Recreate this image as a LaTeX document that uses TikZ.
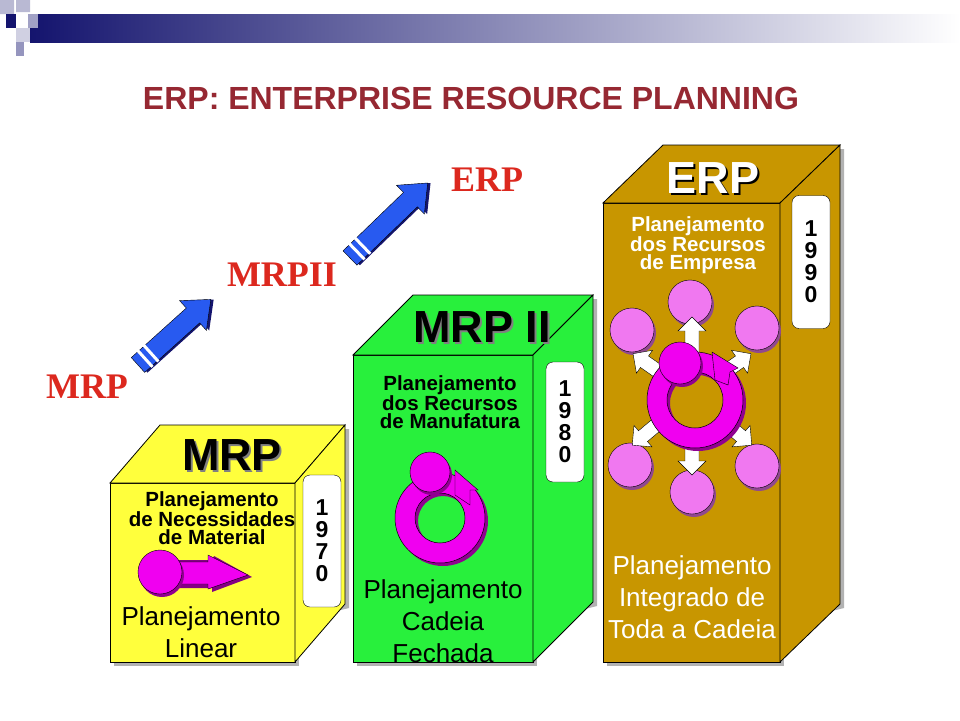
\documentclass[tikz,border=0pt]{standalone}
\usepackage{fontspec}
\setmainfont{Liberation Sans}
\newfontfamily\serifb{Liberation Serif}
\usetikzlibrary{arrows.meta}
\definecolor{navy}{RGB}{20,20,110}
\definecolor{tred}{RGB}{150,40,50}
\definecolor{lred}{RGB}{220,40,30}
\definecolor{yel}{RGB}{255,255,60}
\definecolor{grn}{RGB}{40,240,60}
\definecolor{tan}{RGB}{200,150,0}
\definecolor{mag}{RGB}{240,0,240}
\definecolor{pnk}{RGB}{240,120,240}
\definecolor{blu}{RGB}{40,90,240}
\tikzset{
  face/.style={draw=black,line width=0.8pt},
  shad/.style={fill=gray!60,draw=none},
  yearbox/.style={draw=black,fill=white,rounded corners=7pt},
  yeartxt/.style={font=\bfseries\fontsize{23}{22}\selectfont,align=center},
  big/.style={font=\bfseries\fontsize{45}{45}\selectfont},
  sub/.style={font=\bfseries\fontsize{20.5}{17.5}\selectfont,align=center,inner sep=0pt},
  plain/.style={font=\fontsize{26}{32}\selectfont,align=center},
  evo/.style={font=\serifb\bfseries\fontsize{36}{36}\selectfont,text=lred},
}
\newcommand{\cube}[7]{% x1 x2 ytop ybot dx dy colour
  \fill[shad] (#1+4,#4+4) -- (#2+#5+4,#4-#6+4) -- (#2+#5+4,#3-#6+4) -- (#1+#5+4,#3-#6+4) -- (#1+4,#3+4) -- cycle;
  \fill[shad] (#1+4,#3+4) rectangle (#2+4,#4+4);
  \draw[face,fill=#7] (#1,#3) rectangle (#2,#4);
  \draw[face,fill=#7] (#1,#3) -- (#1+#5,#3-#6) -- (#2+#5,#3-#6) -- (#2,#3) -- cycle;
  \draw[face,fill=#7] (#2,#3) -- (#2+#5,#3-#6) -- (#2+#5,#4-#6) -- (#2,#4) -- cycle;
}
\newcommand{\ring}[4]{% cx cy rout rin
  \fill[mag!60!black,even odd rule] (#1+3,#2+3) circle (#3) (#1+3,#2+3) circle (#4);
  \draw[fill=mag,line width=0.5pt,even odd rule] (#1,#2) circle (#3) (#1,#2) circle (#4);
}
\newcommand{\ball}[4]{\fill[#4!60!black] (#1+2,#2+3) circle (#3); \draw[fill=#4,line width=0.4pt] (#1,#2) circle (#3);}
\newcommand{\wa}[4]{% white arrow from center (#1,#2) angle #3 length #4
  \begin{scope}[shift={(#1,#2)},rotate=#3]
  \draw[fill=white,line width=0.4pt] (40,-7) -- (#4-14,-7) -- (#4-14,-14) -- (#4,0) -- (#4-14,14) -- (#4-14,7) -- (40,7) -- cycle;
  \end{scope}}
\newcommand{\ba}[4]{% blue arrow at (#1,#2) angle #3 length #4
  \begin{scope}[shift={(#1,#2)},rotate=#3]
  \fill[navy] (2,-8) -- (#4-22,-8) -- (#4-22,-18) -- (#4+2,2) -- (#4-22,22) -- (#4-22,12) -- (2,12) -- cycle;
  \draw[fill=blu] (0,-10) -- (#4-24,-10) -- (#4-24,-20) -- (#4,0) -- (#4-24,20) -- (#4-24,10) -- (0,10) -- cycle;
  \fill[white] (8,-11) rectangle (11,11) (16,-11) rectangle (19,11);
  \end{scope}}
\begin{document}
\begin{tikzpicture}[x=1pt,y=-1pt]
\useasboundingbox (0,0) rectangle (960,720);
\fill[white] (0,0) rectangle (960,720);
% header
\shade[left color=navy,right color=white] (30,14) rectangle (960,42);
\fill[navy!30] (0,0) rectangle (14,14) (16,0) rectangle (30,12);
\fill[navy] (6,14) rectangle (16,28);
\fill[navy!40] (28,14) rectangle (38,28);
\fill[navy!20] (16,28) rectangle (30,42);
\fill[navy!45] (16,42) rectangle (24,56);
\node (title) at (471,98) {\color{tred}\bfseries\fontsize{32}{32}\selectfont ERP: ENTERPRISE RESOURCE PLANNING};
% evolution labels
\node[evo] (l1) at (87,387) {MRP};
\node[evo] (l2) at (282,275) {MRPII};
\node[evo] (l3) at (487,180) {ERP};
\ba{138}{365}{42}{98}
\ba{350}{258}{44}{108}
% cubes
\cube{110}{295}{483}{662}{50}{58}{yel}
\cube{353}{533}{355}{662}{60}{60}{grn}
\cube{603}{780}{203}{662}{60}{58}{tan}
% year boxes
\node[yearbox,minimum width=38pt,minimum height=132pt] (y1) at (322,541) {};
\node[yeartxt] at (y1) {1\\9\\7\\0};
\node[yearbox,minimum width=38pt,minimum height=120pt] (y2) at (565,422) {};
\node[yeartxt] at (y2) {1\\9\\8\\0};
\node[yearbox,minimum width=38pt,minimum height=133pt] (y3) at (811,262) {};
\node[yeartxt] at (y3) {1\\9\\9\\0};
% titles
\node[big,text=gray] at (234,457) {MRP};
\node[big] (t1) at (232,455) {MRP};
\node[big,text=gray] at (484,329) {MRP II};
\node[big] (t2) at (482,327) {MRP II};
\node[big,text=black] at (715,180) {ERP};
\node[big,text=white] (t3) at (713,178) {ERP};
% sub texts
\node[sub] (s1) at (212,518) {Planejamento\\de Necessidades\\de Material};
\node[sub] (s2) at (450,402) {Planejamento\\dos Recursos\\de Manufatura};
\node[sub,text=white] (s3) at (698,245) {Planejamento\\dos Recursos\\de Empresa};
\node[plain] (p1) at (201,632) {Planejamento\\Linear};
\node[plain] (p2) at (443,621) {Planejamento\\Cadeia\\Fechada};
\node[plain,text=white] (p3) at (692,597) {Planejamento\\Integrado de\\Toda a Cadeia};
% MRP icon
\fill[mag!55!black] (170,560) -- (212,560) -- (214,556) -- (252,577) -- (212,592) -- (212,588) -- (170,588) -- cycle;
\draw[fill=mag] (170,562) -- (208,562) -- (208,555) -- (248,575) -- (208,589) -- (208,584) -- (170,584) -- cycle;
\ball{160}{572}{22}{mag}
% MRP II icon
\ring{440}{518}{45}{25}
\draw[fill=mag] (455,495) -- (455,470) -- (478,490) -- (470,490) -- (470,505) -- cycle;
\ball{430}{472}{20}{mag}
% ERP icon
\ball{690}{302}{22}{pnk}
\ball{632}{330}{22}{pnk}
\ball{757}{328}{22}{pnk}
\ball{630}{465}{22}{pnk}
\ball{757}{466}{22}{pnk}
\ball{692}{492}{22}{pnk}
\wa{692}{395}{-90}{80}
\wa{692}{395}{-140}{78}
\wa{692}{395}{-40}{78}
\wa{692}{395}{145}{72}
\wa{692}{395}{35}{72}
\wa{692}{395}{90}{78}
\ring{695}{400}{48}{28}
\draw[fill=mag] (715,380) -- (712,352) -- (738,368) -- (730,372) -- (728,385) -- cycle;
\ball{680}{363}{21}{mag}
\end{tikzpicture}
\end{document}
